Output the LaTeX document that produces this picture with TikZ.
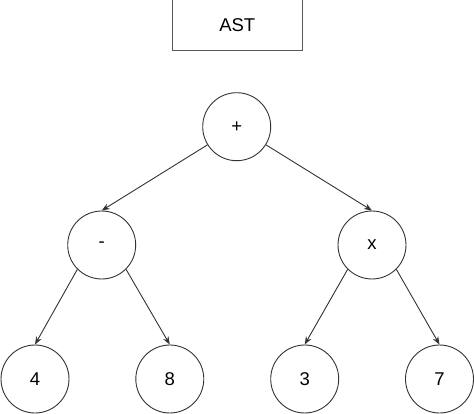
\documentclass[tikz,border=0pt]{standalone}
\usepackage{fontspec}
\setmainfont{Liberation Sans}
\usetikzlibrary{arrows.meta}
\begin{document}
\begin{tikzpicture}[x=1pt,y=-1pt,
  treenode/.style={circle,draw=black!80,line width=0.9pt,minimum size=68pt,inner sep=0pt,font=\fontsize{18.5}{20}\selectfont},
  titlebox/.style={draw=black!65,line width=0.9pt,minimum width=130.5pt,minimum height=56pt,inner sep=0pt},
  edge/.style={draw=black!80,line width=0.9pt,-{Stealth[length=8pt,width=6pt]}}]
\useasboundingbox (0,0) rectangle (474,414);
\node[titlebox] (ast) at (237.3,22.7) {};
\node[font=\fontsize{18.5}{20}\selectfont] (astlabel) at (237.3,25) {AST};
\node[treenode] (plus) at (236.7,126.7) {+};
\node[treenode] (minus) at (101.7,245) {-};
\node[treenode] (times) at (372,245) {x};
\node[treenode] (four) at (35,379) {4};
\node[treenode] (eight) at (169.8,379) {8};
\node[treenode] (three) at (304.7,379) {3};
\node[treenode] (seven) at (439.5,379) {7};
\draw[edge] (plus) -- (minus.north);
\draw[edge] (plus) -- (times.north);
\draw[edge] (minus.south west) -- (four.north);
\draw[edge] (minus.south east) -- (eight.north);
\draw[edge] (times.south west) -- (three.north);
\draw[edge] (times.south east) -- (seven.north);
\end{tikzpicture}
\end{document}
